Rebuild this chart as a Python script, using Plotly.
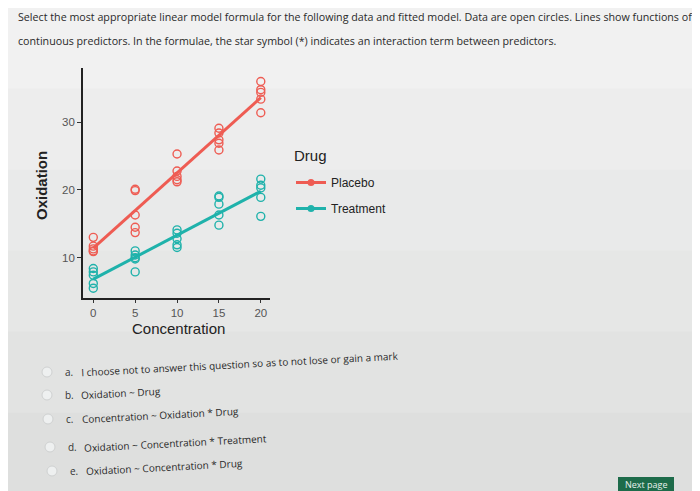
import math
import numpy as np
import plotly.graph_objects as go

concentration = [0, 5, 10, 15, 20]
placebo = [
    [13.0, 11.7, 11.3, 11.0, 10.9],
    [20.1, 19.9, 16.3, 14.5, 13.7],
    [25.3, 22.8, 22.0, 21.5, 21.2],
    [29.1, 28.4, 27.4, 26.9, 25.9],
    [36.0, 34.8, 34.4, 33.4, 31.4],
]
treatment = [
    [8.4, 7.9, 7.4, 6.2, 5.5],
    [11.0, 10.4, 10.0, 9.8, 7.9],
    [14.1, 13.6, 12.8, 11.9, 11.5],
    [19.1, 18.9, 17.9, 16.3, 14.8],
    [21.6, 20.7, 20.3, 18.9, 16.1],
]
drugs = ["Placebo", "Treatment"]
colors = {"Placebo": "#ee5c53", "Treatment": "#1fb2ab"}

question = [
    "Select the most appropriate linear model formula for the following data and fitted model. "
    "Data are open circles. Lines show functions of",
    "continuous predictors. In the formulae, the star symbol (*) indicates an interaction term between predictors.",
]
options = [
    ("a.", "I choose not to answer this question so as to not lose or gain a mark"),
    ("b.", "Oxidation ~ Drug"),
    ("c.", "Concentration ~ Oxidation * Drug"),
    ("d.", "Oxidation ~ Concentration * Treatment"),
    ("e.", "Oxidation ~ Concentration * Drug"),
]

# the page body keeps an 8px margin, so the figure is a bit smaller
# and every position below is given in window pixels
OFF = 8
W, H = 700 - OFF, 491 - OFF


def px_x(p):
    return (p - OFF) / W


def px_y(p):
    return 1 - (p - OFF) / H


def note(x, y, text, size, color="#222", family="Liberation Sans, Arial", xanchor="center", **kw):
    return dict(x=px_x(x), y=px_y(y), xref="paper", yref="paper", showarrow=False,
                xanchor=xanchor, yanchor="middle", text=text,
                font=dict(family=family, size=size, color=color), **kw)


fig = go.Figure()
for name, values in zip(drugs, [placebo, treatment]):
    xs = [c for c, grp in zip(concentration, values) for _ in grp]
    ys = [v for grp in values for v in grp]
    fig.add_trace(go.Scatter(
        x=xs, y=ys, mode="markers", showlegend=False, hoverinfo="skip",
        marker=dict(symbol="circle-open", size=8, color=colors[name], line=dict(width=1.4)),
    ))
    # fitted line from the points (separate slope per drug)
    slope, icpt = np.polyfit(xs, ys, 1)
    fx = [min(concentration), max(concentration)]
    fig.add_trace(go.Scatter(
        x=fx, y=[icpt + slope * v for v in fx], mode="lines", showlegend=False,
        line=dict(color=colors[name], width=3),
    ))
    # legend-only entry: line with a dot in it
    fig.add_trace(go.Scatter(
        x=[None], y=[None], mode="lines+markers", name=name, legendgroup=name,
        line=dict(color=colors[name], width=3), marker=dict(size=7, color=colors[name]),
    ))

axis_font = dict(family="Liberation Sans, Arial", size=11.5, color="#555555")
fig.update_xaxes(
    domain=[px_x(83), px_x(270)], range=[-1.23, 21.1],
    tickvals=concentration, ticks="outside", ticklen=3, tickcolor="#333",
    showline=True, linecolor="#222", linewidth=1.6, showgrid=False, zeroline=False,
    tickfont=axis_font,
)
fig.update_yaxes(
    domain=[px_y(298), px_y(68)], range=[4.05, 38.0],
    tickvals=[10, 20, 30], ticks="outside", ticklen=4, tickcolor="#333",
    showline=True, linecolor="#222", linewidth=1.6, showgrid=False, zeroline=False,
    tickfont=axis_font,
)

annotations = [
    note(178, 328, "Concentration", 15),
    note(42, 186, "<b>Oxidation</b>", 15, textangle=-90),
    note(292, 155, "Drug", 15, xanchor="left"),
]
for i, line in enumerate(question):
    annotations.append(note(16, 17 + 24 * i, line, 10.7, "#2a2a2a", "Open Sans", xanchor="left"))

opt_y = [372, 395, 419, 447, 471]
opt_x = [63, 63, 64, 66, 68]
tilt = 3.0
shapes = []
# light-to-grey wash of the photographed screen
bands = ["#f1f1f1", "#ededed", "#e9eaea", "#e6e7e6", "#e2e3e2", "#dedfde"]
for k, col in enumerate(bands):
    shapes.append(dict(
        type="rect", xref="paper", yref="paper", layer="below",
        x0=0, x1=1, y0=px_y(8 + (k + 1) * 485 / len(bands)), y1=px_y(8 + k * 485 / len(bands)),
        line=dict(width=0), fillcolor=col,
    ))
for (letter, text), yy, xx in zip(options, opt_y, opt_x):
    # rotated text is anchored by its box centre, so lift it to keep the left end on the letter
    lift = len(text) * 4.6 / 2 * math.sin(math.radians(tilt))
    annotations.append(note(xx, yy, letter, 10, "#333", "Open Sans", xanchor="left"))
    annotations.append(note(xx + 16, yy - lift, text, 10, "#2a2a2a", "Open Sans",
                            xanchor="left", textangle=-tilt))
    shapes.append(dict(
        type="circle", xref="paper", yref="paper",
        x0=px_x(xx - 21), x1=px_x(xx - 11), y0=px_y(yy + 5), y1=px_y(yy - 5),
        line=dict(color="#cfd1d1", width=1), fillcolor="#eef0f0",
    ))

# "Next page" button, cut off by the photo
shapes.append(dict(
    type="rect", xref="paper", yref="paper", x0=px_x(618), x1=px_x(674),
    y0=px_y(495), y1=px_y(477), line=dict(width=0), fillcolor="#1d6b4a",
))
annotations.append(note(646, 484, "Next page", 9, "#e8f0ec", "Open Sans"))

fig.update_layout(
    width=W, height=H,
    margin=dict(l=0, r=0, t=0, b=0),
    paper_bgcolor="#ebebeb", plot_bgcolor="rgba(0,0,0,0)",
    annotations=annotations, shapes=shapes,
    legend=dict(
        x=px_x(291), y=px_y(168), xanchor="left", yanchor="top",
        bgcolor="rgba(0,0,0,0)", tracegroupgap=7, itemwidth=30,
        font=dict(family="Liberation Sans, Arial", size=12, color="#222"),
    ),
)

fig.write_html("out.html")
